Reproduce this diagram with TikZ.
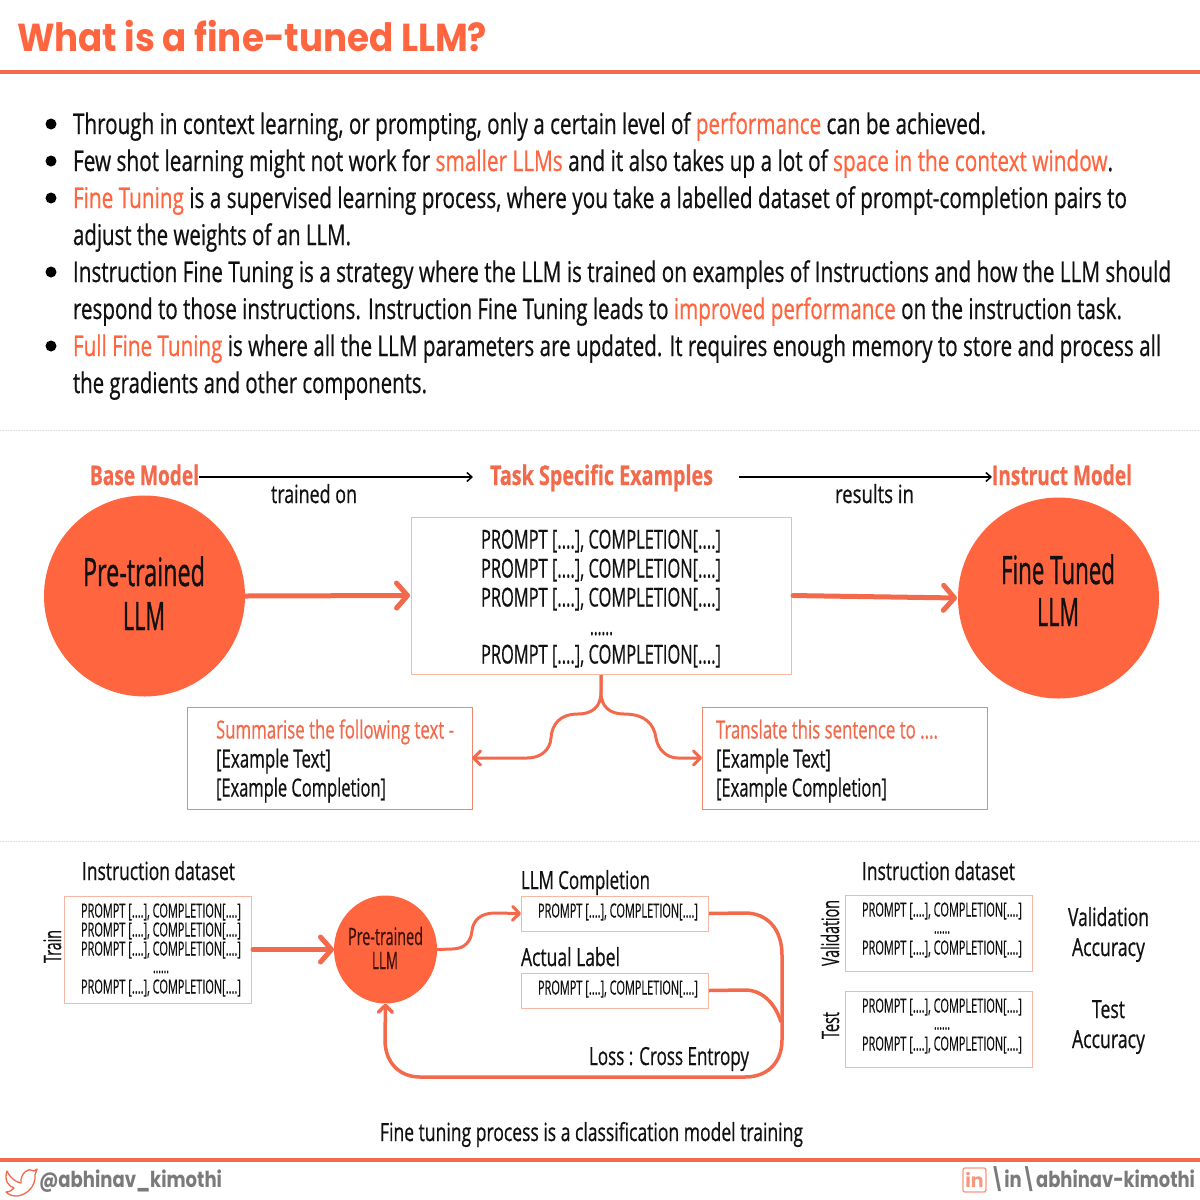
\documentclass[tikz,border=0pt]{standalone}
\usepackage{fontspec}
\usepackage{graphicx}
\usetikzlibrary{arrows.meta,shapes.geometric}
\setmainfont[FakeBold=0.6]{Open Sans}
\newfontfamily\headfont{Poppins}
\definecolor{hot}{HTML}{FF653F}
\definecolor{org}{HTML}{F26A4B}
\definecolor{pale}{HTML}{F7B7A3}
\definecolor{mid}{HTML}{F0866B}
\definecolor{inkk}{HTML}{111111}
\definecolor{grayt}{HTML}{7A7A7A}
\definecolor{darkred}{HTML}{3A1208}
\newcommand\ft[2]{\resizebox{#1pt}{\height}{#2}}
\newcommand\og[1]{\textcolor{hot}{#1}}
\newcommand\sz[1]{\fontsize{#1}{#1}\selectfont}
\tikzset{
  lab/.style={inner sep=0pt,outer sep=0pt,anchor=base west,text=inkk},
  body/.style={lab,font=\sz{28.5}\addfontfeature{FakeBold=0.7}},
  big/.style={lab,font=\sz{39}\addfontfeature{FakeBold=1.2}},
  small/.style={lab,font=\sz{25}\addfontfeature{FakeBold=0.7}},
  tiny/.style={lab,font=\sz{19.5}\addfontfeature{FakeBold=0.5}},
  mids/.style={lab,font=\sz{26}\addfontfeature{FakeBold=0.7}},
  head/.style={lab,text=org,font=\sz{27}\bfseries\addfontfeature{FakeBold=0.7}},
  rot/.style={lab,anchor=base,rotate=90,font=\sz{24}\addfontfeature{FakeBold=0.7}},
  foot/.style={lab,text=grayt,font=\headfont\sz{22}\bfseries},
  box/.style={draw=pale,line width=1pt,inner sep=0pt,outer sep=0pt,anchor=north west,fill=white},
  dark/.style={draw=mid,line width=1pt,inner sep=0pt,outer sep=0pt,anchor=north west,fill=white},
  disc/.style={circle,fill=hot,inner sep=0pt,outer sep=0pt,minimum size=201pt},
  bul/.style={circle,fill=black,inner sep=0pt,minimum size=11pt},
  rule/.style={draw=org,line width=4pt},
  sep/.style={draw=black!14,line width=.6pt,densely dotted},
  thin/.style={draw=black,line width=1.5pt,-{Straight Barb[length=5pt,width=9pt]}},
  fat/.style={draw=org,line width=5pt,line cap=round,-{Straight Barb[round,length=11pt,width=25pt]}},
  cur/.style={draw=org,line width=3pt,-{Straight Barb[round,length=7pt,width=14pt]}},
  loop/.style={draw=org,line width=3.5pt},
}
\begin{document}
\begin{tikzpicture}[x=1pt,y=-1pt]
\useasboundingbox (0,0) rectangle (1200,1200);
\fill[white] (0,0) rectangle (1200,1200);
% title
\node[lab,text=hot,font=\headfont\sz{39}\bfseries] (title) at (17,51) {\ft{470}{What is a fine-tuned LLM?}};
\draw[rule] (0,72) -- (1200,72);
% bullets
\node[bul] (b1) at (51,124) {};
\node[bul] (b2) at (51,161) {};
\node[bul] (b3) at (51,198) {};
\node[bul] (b4) at (51,272) {};
\node[bul] (b5) at (51,346) {};
\node[body] (l1) at (73,134) {\ft{913}{Through in context learning, or prompting, only a certain level of \og{performance} can be achieved.}};
\node[body] (l2) at (73,171) {\ft{1040}{Few shot learning might not work for \og{smaller LLMs} and it also takes up a lot of \og{space in the context window}.}};
\node[body] (l3) at (73,208) {\ft{1054}{\og{Fine Tuning} is a supervised learning process, where you take a labelled dataset of prompt-completion pairs to}};
\node[body] (l4) at (73,245) {\ft{278}{adjust the weights of an LLM.}};
\node[body] (l5) at (73,282) {\ft{1098}{Instruction Fine Tuning is a strategy where the LLM is trained on examples of Instructions and how the LLM should}};
\node[body] (l6) at (73,319) {\ft{1049}{respond to those instructions. Instruction Fine Tuning leads to \og{improved performance} on the instruction task.}};
\node[body] (l7) at (73,356) {\ft{1088}{\og{Full Fine Tuning} is where all the LLM parameters are updated. It requires enough memory to store and process all}};
\node[body] (l8) at (73,393) {\ft{354}{the gradients and other components.}};
\coordinate (s1a) at (0,430); \coordinate (s1b) at (1200,430);
\coordinate (s2a) at (0,841); \coordinate (s2b) at (1200,841);
\draw[sep] (s1a) -- (s1b);
\draw[sep] (s2a) -- (s2b);
% section 2 headings
\node[head] (base) at (90,485) {\ft{109}{Base Model}};
\node[head] (task) at (490,485) {\ft{223}{Task Specific Examples}};
\node[head] (inst) at (992,485) {\ft{140}{Instruct Model}};
\coordinate (a1) at (199,477); \coordinate (a2) at (473,477);
\coordinate (a3) at (739,477); \coordinate (a4) at (992,477);
\draw[thin] (a1) -- (a2);
\draw[thin] (a3) -- (a4);
\node[small] (tr) at (271,503) {\ft{86}{trained on}};
\node[small] (re) at (835,503) {\ft{79}{results in}};
% circles
\node[disc] (pre) at (144.5,596) {};
\node[disc] (fin) at (1058.5,598) {};
\node[big] (pre1) at (83,586) {\ft{122}{Pre-trained}};
\node[big] (pre2) at (123,630) {\ft{42}{LLM}};
\node[big] (fin1) at (1001,584) {\ft{114}{Fine Tuned}};
\node[big] (fin2) at (1037,626) {\ft{42}{LLM}};
% middle box
\node[box,minimum width=380pt,minimum height=157pt] (midbox) at (411,517) {};
\node[mids] (m1) at (481,548.5) {\ft{240}{PROMPT [....], COMPLETION[....]}};
\node[mids] (m2) at (481,577.5) {\ft{240}{PROMPT [....], COMPLETION[....]}};
\node[mids] (m3) at (481,606.5) {\ft{240}{PROMPT [....], COMPLETION[....]}};
\node[mids] (m4) at (590,635) {\ft{23}{......}};
\node[mids] (m5) at (481,663.5) {\ft{240}{PROMPT [....], COMPLETION[....]}};
\draw[fat,shorten >=1pt] (pre.east) -- (midbox.west);
\draw[fat,shorten >=1pt,shorten <=2pt] (midbox.east) -- (fin.west);
% example boxes
\node[dark,minimum width=285pt,minimum height=102pt] (lbox) at (187,707) {};
\node[dark,minimum width=285pt,minimum height=102pt] (rbox) at (702,707) {};
\node[small,text=org] (lt1) at (216,738.5) {\ft{238}{Summarise the following text -}};
\node[small] (lt2) at (216,767.5) {\ft{115}{[Example Text]}};
\node[small] (lt3) at (216,796.5) {\ft{170}{[Example Completion]}};
\node[small,text=org] (rt1) at (716,738.5) {\ft{222}{Translate this sentence to ....}};
\node[small] (rt2) at (716,767.5) {\ft{115}{[Example Text]}};
\node[small] (rt3) at (716,796.5) {\ft{171}{[Example Completion]}};
\draw[cur] (601,675) -- (601,692) .. controls (601,707) and (592,714) .. (578,714)
  .. controls (560,714) and (552,724) .. (551,738) .. controls (550,750) and (541,758) .. (527,758) -- (lbox.east);
\draw[cur] (601,675) -- (601,692) .. controls (601,707) and (610,714) .. (624,714)
  .. controls (645,714) and (654,724) .. (656,738) .. controls (658,750) and (667,758) .. (678,758) -- (rbox.west);
% section 3 left
\node[small] (id1) at (82,880) {\ft{153}{Instruction dataset}};
\node[box,minimum width=187pt,minimum height=107pt] (train) at (64,896) {};
\node[tiny] (t1) at (81,917.5) {\ft{160}{PROMPT [....], COMPLETION[....]}};
\node[tiny] (t2) at (81,936.5) {\ft{160}{PROMPT [....], COMPLETION[....]}};
\node[tiny] (t3) at (81,955.5) {\ft{160}{PROMPT [....], COMPLETION[....]}};
\node[tiny] (t4) at (153,973) {\ft{16}{......}};
\node[tiny] (t5) at (81,993.5) {\ft{160}{PROMPT [....], COMPLETION[....]}};
\node[rot] (trl) at (61,946.5) {\ft{33}{Train}};
\node[ellipse,fill=hot,inner sep=0pt,outer sep=0pt,minimum width=103pt,minimum height=108pt] (pre3) at (385.5,949.5) {};
\node[lab,font=\sz{24}\addfontfeature{FakeBold=0.7},text=darkred] (p1) at (348,945) {\ft{75}{Pre-trained}};
\node[lab,font=\sz{24}\addfontfeature{FakeBold=0.7},text=darkred] (p2) at (372,969) {\ft{26}{LLM}};
\draw[fat,shorten <=2pt] (train.east) -- (pre3.west);
% completion / label
\node[small] (lc) at (521,889) {\ft{129}{LLM Completion}};
\node[box,minimum width=187pt,minimum height=35pt] (comp) at (521,896) {};
\node[tiny] (c1) at (538,917.5) {\ft{160}{PROMPT [....], COMPLETION[....]}};
\node[small] (al) at (521,966) {\ft{99}{Actual Label}};
\node[box,minimum width=187pt,minimum height=35pt] (lab1) at (521,973) {};
\node[tiny] (a1t) at (538,994.5) {\ft{160}{PROMPT [....], COMPLETION[....]}};
\node[small] (ce) at (589,1065) {\ft{160}{Loss : Cross Entropy}};
\draw[cur] (pre3.east) ++(0,0) -- (452,949) .. controls (465,949) and (471,941) .. (472,931)
  .. controls (473,920) and (481,913) .. (495,913) -- (comp.west);
\draw[loop,-{Straight Barb[round,length=7pt,width=14pt]}] (comp.east) ++(1,0) -- (745,913) .. controls (768,913) and (782,930) .. (782,955) -- (782,1040)
  .. controls (782,1062) and (768,1077) .. (745,1077) -- (420,1077) .. controls (399,1077) and (385,1062) .. (385,1040) -- (pre3.south);
\draw[loop] (lab1.east) ++(1,0) -- (745,990) .. controls (762,990) and (775,1003) .. (781,1022);
% right datasets
\node[small] (id2) at (862,880) {\ft{153}{Instruction dataset}};
\node[box,minimum width=187pt,minimum height=76pt] (val) at (845,895) {};
\node[tiny] (v1) at (862,916.5) {\ft{160}{PROMPT [....], COMPLETION[....]}};
\node[tiny] (v2) at (934,933.5) {\ft{16}{......}};
\node[tiny] (v3) at (862,954.5) {\ft{160}{PROMPT [....], COMPLETION[....]}};
\node[box,minimum width=187pt,minimum height=76pt] (tst) at (845,991) {};
\node[tiny] (s1) at (862,1012.5) {\ft{160}{PROMPT [....], COMPLETION[....]}};
\node[tiny] (s2) at (934,1029.5) {\ft{16}{......}};
\node[tiny] (s3) at (862,1050.5) {\ft{160}{PROMPT [....], COMPLETION[....]}};
\node[rot] (vl) at (839,933) {\ft{66}{Validation}};
\node[rot] (tl) at (839,1025.5) {\ft{27}{Test}};
\node[small] (va1) at (1068,926) {\ft{81}{Validation}};
\node[small] (va2) at (1072,956) {\ft{73}{Accuracy}};
\node[small] (te1) at (1092,1018) {\ft{33}{Test}};
\node[small] (te2) at (1072,1048) {\ft{73}{Accuracy}};
\node[small] (cap) at (380,1141) {\ft{423}{Fine tuning process is a classification model training}};
% footer
\draw[rule] (0,1160) -- (1200,1160);
\node[foot] (hand) at (39,1187) {\ft{183}{@abhinav\_kimothi}};
\node[foot] (link) at (990,1187) {\ft{205}{\textbackslash in\textbackslash abhinav-kimothi}};
\draw[org,line width=1.3pt,line join=round] (7,1171) .. controls (11,1179) and (16,1182) .. (21,1183)
  .. controls (20,1173) and (29,1167) .. (34,1171) -- (37,1169) -- (35,1175) .. controls (36,1186) and (27,1195) .. (17,1196)
  .. controls (12,1196) and (9,1195) .. (6,1192) .. controls (10,1192) and (12,1190) .. (14,1188)
  .. controls (8,1186) and (4,1180) .. (7,1171) -- cycle;
\node[draw=org!70,line width=1.3pt,rounded corners=2pt,minimum width=23pt,minimum height=24pt,inner sep=0pt,font=\headfont\sz{19}\bfseries,text=org!70] (lk) at (974.5,1180) {in};
\end{tikzpicture}
\end{document}
